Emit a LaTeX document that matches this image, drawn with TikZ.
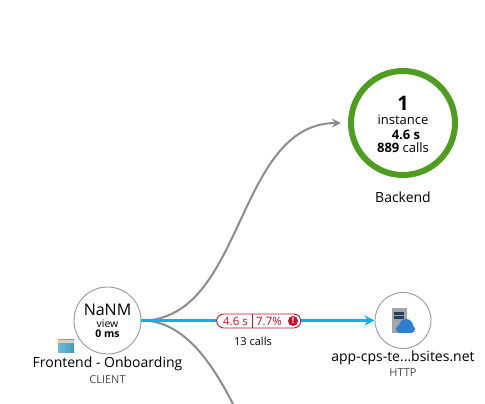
\documentclass[tikz,border=0pt]{standalone}
\usepackage{fontspec}
\setmainfont{Open Sans}
\usepackage{tikz}
\usetikzlibrary{arrows.meta}
\definecolor{ringgreen}{HTML}{4E9D1E}
\definecolor{edgegray}{HTML}{8C8C8C}
\definecolor{edgeblue}{HTML}{0FB0E4}
\definecolor{alertred}{HTML}{C8102E}
\definecolor{iconblue}{HTML}{2F7FD0}
\definecolor{iconsky}{HTML}{4FB3DA}
\definecolor{slotblue}{HTML}{24405E}
\tikzset{vertex/.style = {shape = circle, draw = gray!80, line width = 0.9pt, fill = white, inner sep = 0pt, minimum size = 2*#1}}
\tikzset{ring/.style = {shape = circle, draw = ringgreen, line width = 6pt, fill = white, inner sep = 0pt, minimum size = 104pt}}
\tikzset{edge/.style = {draw = edgegray, line width = 2pt, -{Stealth[length = 9pt, width = 9pt]}}}
\tikzset{caption/.style = {inner sep = 0pt, text = black, font = \fontsize{#1}{#1}\selectfont}}
\tikzset{subcaption/.style = {inner sep = 0pt, text = black!70, font = \fontsize{11}{11}\selectfont}}
\tikzset{alert/.style = {inner sep = 0pt, text = alertred, font = \fontsize{11.5}{12}\selectfont}}
\begin{document}
\begin{tikzpicture}[x = 1pt, y = 1pt]
	\useasboundingbox (0, 0) rectangle (485, 404);

	\node[ring] (backend) at (403, 281) {};
	\node[vertex = 33.5pt] (frontend) at (107.5, 83.5) {};
	\node[vertex = 28pt] (app) at (403, 83.5) {};
	\coordinate (below) at (233, 0);

	\draw[edge] (frontend.east) .. controls (245, 83.5) and (235, 280.5) .. ([xshift = -7pt]backend.west);
	\draw[edge, -] (frontend.east) .. controls (180, 83.5) and (208, 49) .. (below);
	\draw[edge, draw = edgeblue, line width = 2.4pt, -{Stealth[length = 10pt, width = 10pt]}] (frontend.east) -- (app.west);

	\node[caption = 20] (count) at (403, 301) {\textbf{1}};
	\node[caption = 13] (inst) at (403, 284) {instance};
	\node[caption = 13] (time) at (406, 269) {\textbf{4.6 s}};
	\node[caption = 13] (calls) at (403, 256) {\textbf{889} calls};
	\node[caption = 14] (backname) at (403, 207) {Backend};

	\node[caption = 16] (nanm) at (107.5, 94) {NaNM};
	\node[caption = 10.5] (view) at (107.5, 80) {view};
	\node[caption = 10.5] (ms) at (107.5, 70) {\textbf{0 ms}};
	\node[caption = 14] (frontname) at (107.5, 40) {Frontend - Onboarding};
	\node[subcaption] (client) at (107.5, 24) {CLIENT};
	\shade[left color = iconsky!85!white, right color = iconsky!85!black] (58, 51) rectangle (74, 64);
	\fill[gray!35] (58, 61) rectangle (74, 64);

	\node[draw = alertred, line width = 0.9pt, fill = white, rounded corners = 7pt, minimum width = 84pt, minimum height = 14pt, inner sep = 0pt] (pill) at (258.7, 83) {};
	\node[alert] (ptime) at (235.5, 83) {4.6 s};
	\node[alert] (ppct) at (269, 83) {7.7\%};
	\draw[alertred, line width = 0.8pt] (252, 76) -- (252, 90);
	\node[circle, fill = alertred, text = white, minimum size = 10pt, inner sep = 0pt, font = \fontsize{8}{8}\selectfont\bfseries] (warn) at (293, 83) {!};
	\node[caption = 11] (ncalls) at (253, 63) {13 calls};

	\fill[gray!70] (392, 71) rectangle (407, 96);
	\fill[slotblue] (394, 89) rectangle (404, 92);
	\fill[slotblue] (394, 85) rectangle (404, 88);
	\fill[iconblue] (400, 75) circle (4);
	\fill[iconblue] (406, 78) circle (7);
	\fill[iconblue] (411, 75) circle (4);
	\fill[iconblue] (400, 71) rectangle (411, 76);
	\node[caption = 14] (appname) at (403, 46) {app-cps-te...bsites.net};
	\node[subcaption] (http) at (403, 31) {HTTP};
\end{tikzpicture}
\end{document}
